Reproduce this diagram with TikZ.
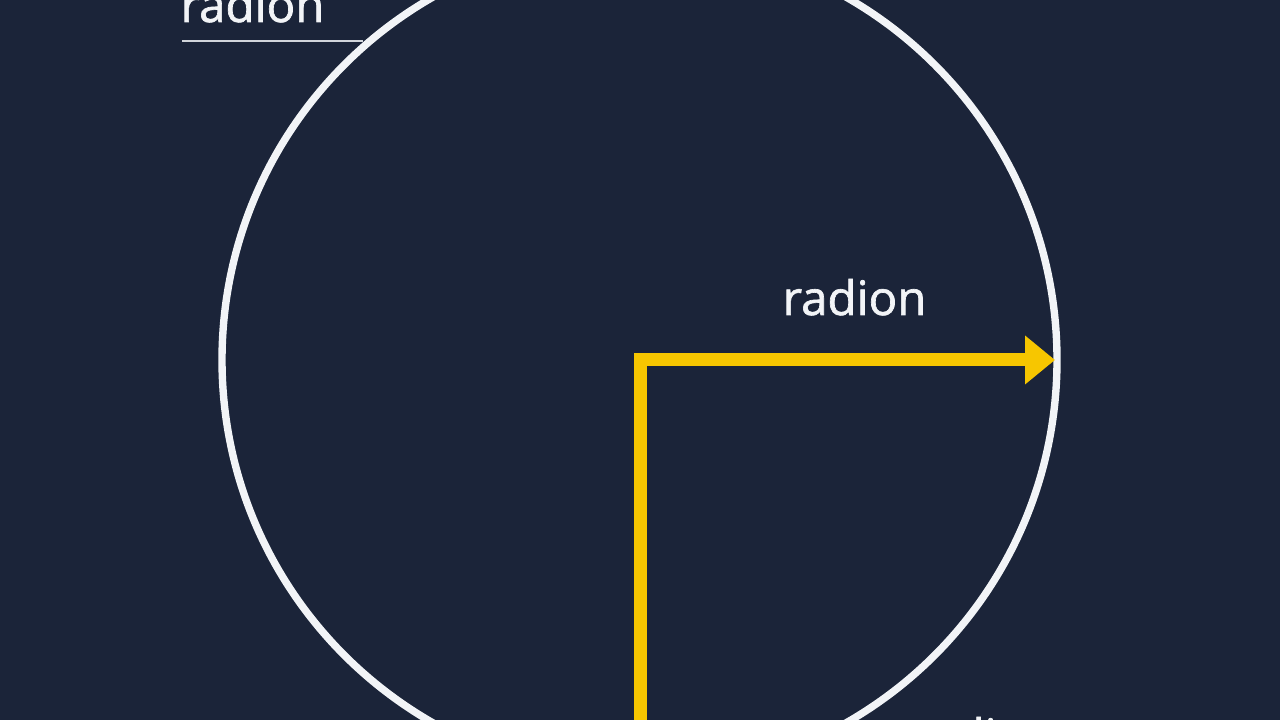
\documentclass[tikz,border=0pt]{standalone}
\usepackage{fontspec}
\newfontfamily\medfont{Open Sans}[RawFeature={embolden=1.4}]
\usepackage{tikz}
\usetikzlibrary{arrows.meta}
\definecolor{navy}{HTML}{1B2439}
\definecolor{gold}{HTML}{F7C600}
\definecolor{chalk}{HTML}{F2F4F7}

\begin{document}
\begin{tikzpicture}[rim/.style={draw=chalk, line width=2.1pt},
  ray/.style={draw=gold, line width=3.7pt, line join=miter, -{Triangle[length=3mm, width=4.7mm]}},
  lbl/.style={text=chalk, inner sep=0pt, anchor=base west, font=\medfont\fontsize{13.5}{15}\selectfont}]
  \useasboundingbox (0,0) rectangle (12.8,7.2);
  \clip (0,0) rectangle (12.8,7.2);
  \fill[navy] (0,0) rectangle (12.8,7.2);
  \coordinate (c) at (6.395,3.6);
  \coordinate (foot) at (6.4,-0.2);
  \coordinate (edge) at (10.55,3.6);
  \draw[rim] (c) circle (4.175);
  \draw[ray] (foot) |- (edge);
  \node[lbl] (r1) at (7.82,4.05) {radion};
  \node[lbl] (r2) at (1.80,6.98) {radion};
  \node[lbl] (r3) at (9.10,-0.33) {radion};
  \coordinate (u1) at (1.82,6.79);
  \coordinate (u2) at (3.63,6.79);
  \draw[chalk!85!navy, line width=0.6pt] (u1) -- (u2);
\end{tikzpicture}
\end{document}
